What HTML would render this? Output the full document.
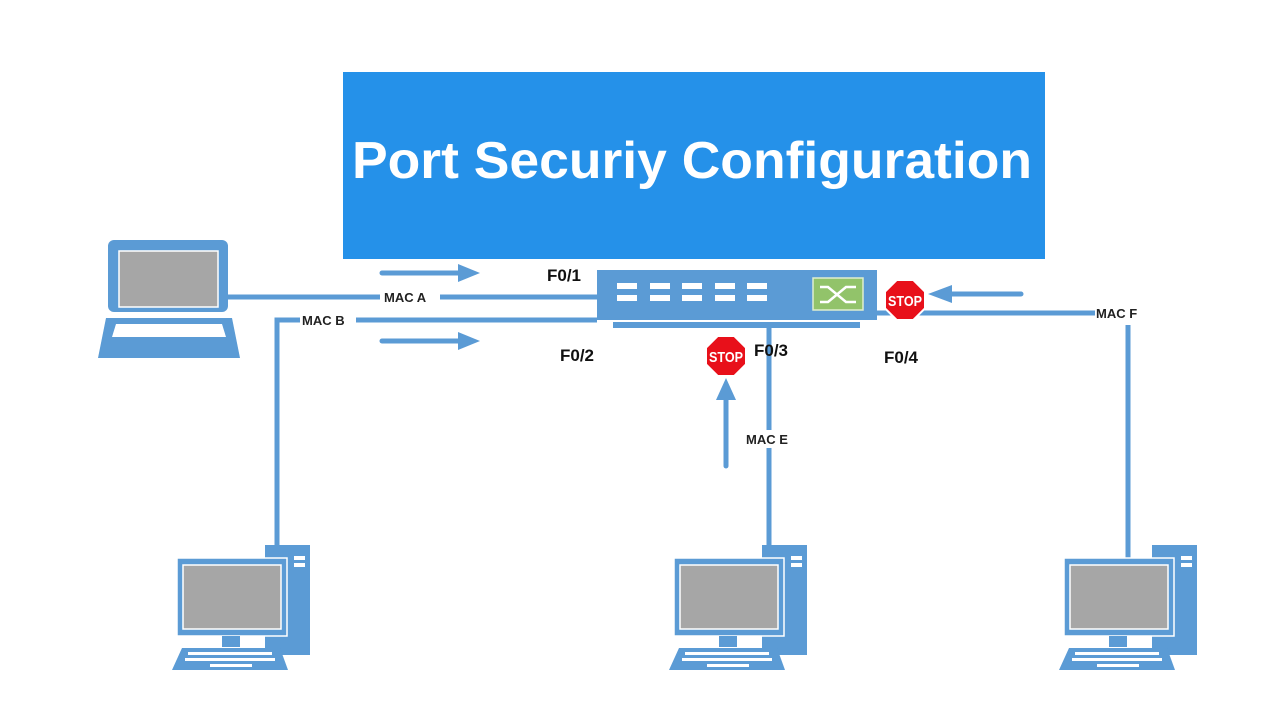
<!DOCTYPE html>
<html><head><meta charset="utf-8"><style>
html,body{margin:0;padding:0;background:#fff;width:1280px;height:720px;overflow:hidden}
svg{display:block}
text{font-family:"Liberation Sans",sans-serif;font-weight:bold}
</style></head><body>
<svg width="1280" height="720" viewBox="0 0 1280 720" xmlns="http://www.w3.org/2000/svg">
<defs>
<g id="pc">
  <rect x="265" y="545" width="45" height="110" fill="#5b9bd5"/>
  <rect x="294" y="556" width="11" height="4" fill="#fff"/>
  <rect x="294" y="563" width="11" height="4" fill="#fff"/>
  <rect x="177" y="558" width="110" height="78" fill="#5b9bd5" stroke="#fff" stroke-width="1.5"/>
  <rect x="183" y="565" width="98" height="64" fill="#a6a6a6" stroke="#fff" stroke-width="1.5"/>
  <rect x="222" y="636" width="18" height="11" fill="#5b9bd5"/>
  <polygon points="182,648 280,648 288,670 172,670" fill="#5b9bd5"/>
  <g fill="#fff">
    <rect x="188" y="652" width="84" height="3"/>
    <rect x="185" y="658" width="90" height="3"/>
    <rect x="210" y="664" width="42" height="3"/>
  </g>
</g>
<g id="stop">
  <polygon points="-8.3,-20 8.3,-20 20,-8.3 20,8.3 8.3,20 -8.3,20 -20,8.3 -20,-8.3" fill="#e8101a" stroke="#fff" stroke-width="2"/>
  <text x="0" y="6" font-size="15" fill="#fff" text-anchor="middle" textLength="34" lengthAdjust="spacingAndGlyphs">STOP</text>
</g>
</defs>

<rect x="343" y="72" width="702" height="187" fill="#2591e9"/>
<text x="692" y="178" font-size="52" fill="#fff" text-anchor="middle" textLength="680" lengthAdjust="spacingAndGlyphs">Port Securiy Configuration</text>

<g stroke="#5b9bd5" stroke-width="5" fill="none">
  <line x1="228" y1="297" x2="597" y2="297"/>
  <polyline points="277,545 277,320 597,320"/>
  <line x1="769" y1="322" x2="769" y2="545"/>
  <line x1="877" y1="313" x2="1095" y2="313"/>
  <line x1="1128" y1="325" x2="1128" y2="560"/>
</g>
<rect x="380" y="290" width="60" height="14" fill="#fff"/>
<text x="384" y="302" font-size="13" fill="#222">MAC A</text>
<rect x="300" y="313" width="56" height="14" fill="#fff"/>
<text x="302" y="325" font-size="13" fill="#222">MAC B</text>
<rect x="745" y="430" width="52" height="18" fill="#fff"/>
<text x="746" y="444" font-size="13" fill="#222">MAC E</text>
<text x="1096" y="318" font-size="13" fill="#222">MAC F</text>

<g fill="#5b9bd5" stroke="#5b9bd5">
  <line x1="382" y1="273" x2="460" y2="273" stroke-width="5" stroke-linecap="round"/>
  <polygon points="458,264 480,273 458,282" stroke="none"/>
  <line x1="382" y1="341" x2="460" y2="341" stroke-width="5" stroke-linecap="round"/>
  <polygon points="458,332 480,341 458,350" stroke="none"/>
  <line x1="1021" y1="294" x2="950" y2="294" stroke-width="5" stroke-linecap="round"/>
  <polygon points="952,285 928,294 952,303" stroke="none"/>
  <line x1="726" y1="466" x2="726" y2="398" stroke-width="5" stroke-linecap="round"/>
  <polygon points="716,400 726,378 736,400" stroke="none"/>
</g>

<rect x="108" y="240" width="120" height="72" rx="6" fill="#5b9bd5"/>
<rect x="119" y="251" width="99" height="56" fill="#a6a6a6" stroke="#fff" stroke-width="1.5"/>
<polygon points="106,318 232,318 240,358 98,358" fill="#5b9bd5"/>
<polygon points="116,324 222,324 226,337 112,337" fill="#fff"/>

<rect x="613" y="322" width="247" height="6" fill="#5b9bd5"/>
<rect x="597" y="270" width="280" height="50" fill="#5b9bd5"/>
<g fill="#fff">
  <rect x="617" y="283" width="20" height="6"/><rect x="617" y="295" width="20" height="6"/>
  <rect x="650" y="283" width="20" height="6"/><rect x="650" y="295" width="20" height="6"/>
  <rect x="682" y="283" width="20" height="6"/><rect x="682" y="295" width="20" height="6"/>
  <rect x="715" y="283" width="20" height="6"/><rect x="715" y="295" width="20" height="6"/>
  <rect x="747" y="283" width="20" height="6"/><rect x="747" y="295" width="20" height="6"/>
</g>
<rect x="813" y="278" width="50" height="32" fill="#92c36a" stroke="#dfeecf" stroke-width="1.5"/>
<g stroke="#fff" stroke-width="2.5" fill="none">
  <path d="M820 287 H828 L846 302 H856"/>
  <path d="M820 302 H828 L846 287 H856"/>
</g>

<text x="547" y="281" font-size="17" fill="#111">F0/1</text>
<text x="560" y="361" font-size="17" fill="#111">F0/2</text>
<text x="754" y="356" font-size="17" fill="#111">F0/3</text>
<text x="884" y="363" font-size="17" fill="#111">F0/4</text>

<use href="#stop" x="905" y="300"/>
<use href="#stop" x="726" y="356"/>

<use href="#pc"/>
<use href="#pc" x="497"/>
<use href="#pc" x="887"/>
</svg>
</body></html>
